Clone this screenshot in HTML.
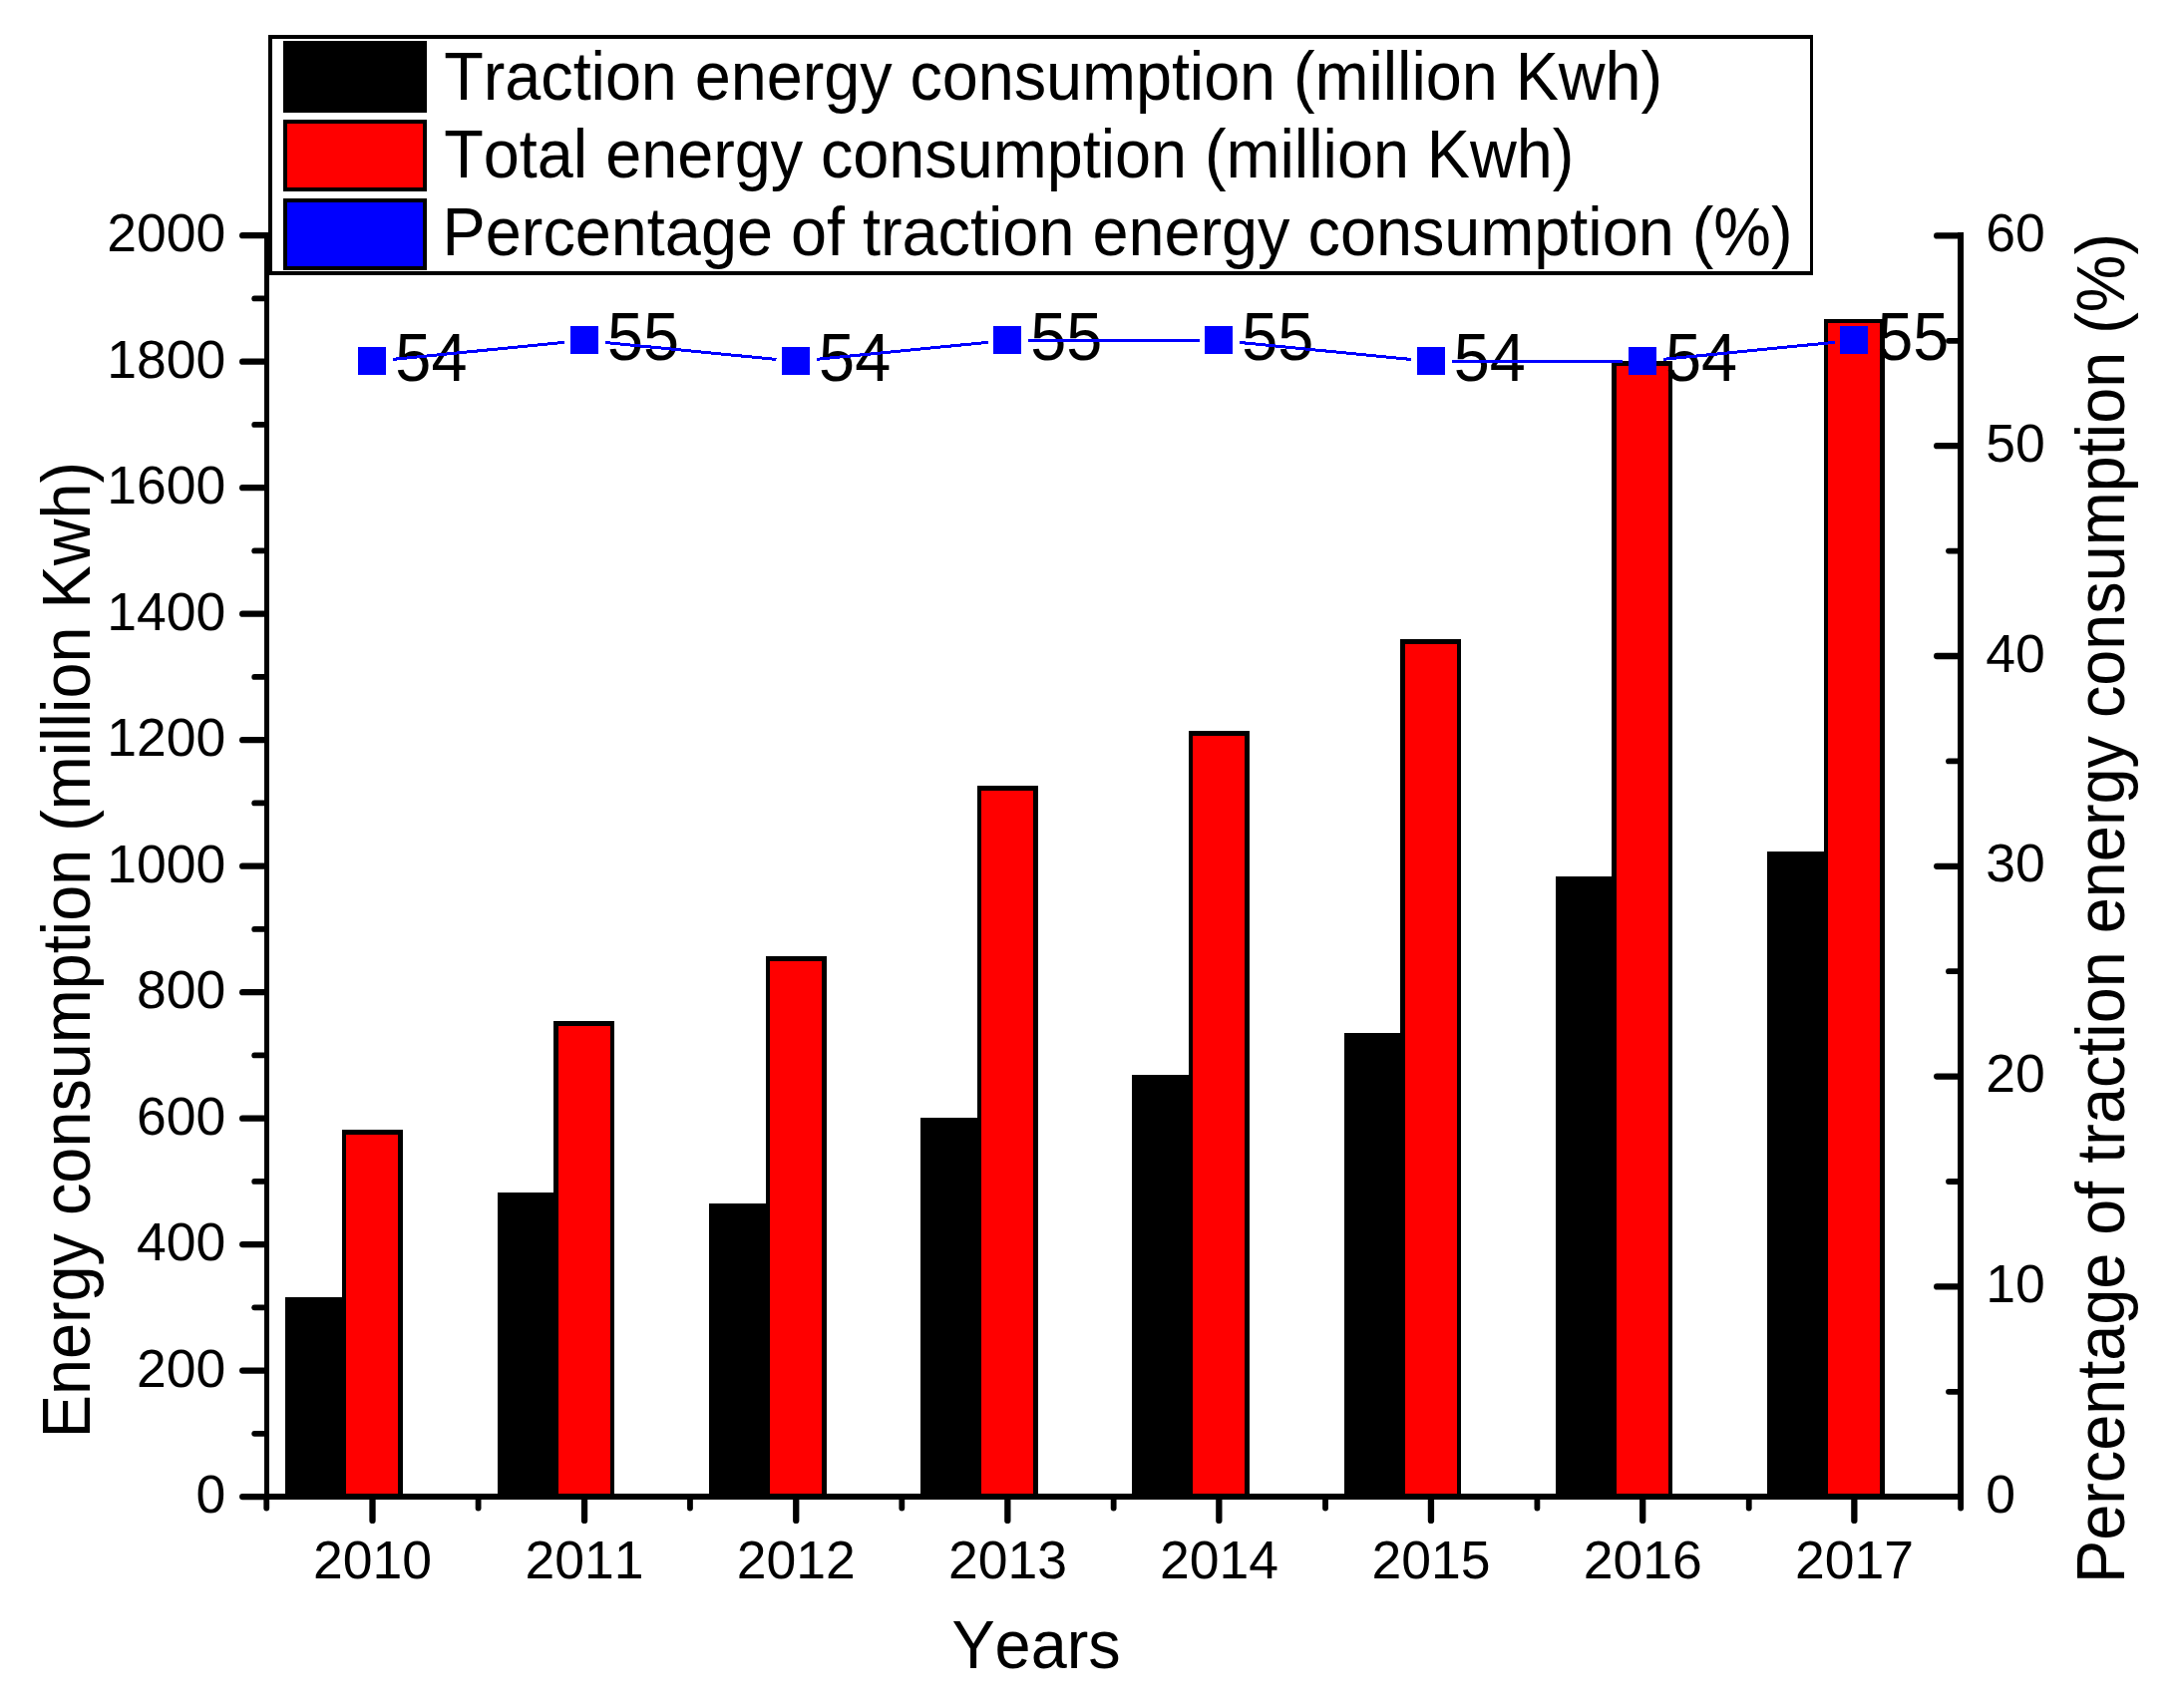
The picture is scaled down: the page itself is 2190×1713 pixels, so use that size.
<!DOCTYPE html>
<html lang="en"><head><meta charset="utf-8"><title>Energy consumption chart</title>
<style>html,body{margin:0;padding:0;background:#fff;}body{width:2190px;height:1713px;overflow:hidden;}svg{display:block;}text{font-family:"Liberation Sans",Arial,Helvetica,sans-serif;fill:#000;font-kerning:none;font-variant-ligatures:none;}</style>
</head><body>
<svg width="2190" height="1713" viewBox="0 0 2190 1713">
<rect x="0" y="0" width="2190" height="1713" fill="#fff"/>
<g shape-rendering="crispEdges">
<rect x="286.25" y="1300.75" width="61" height="200.35" fill="#000"/>
<rect x="345.00" y="1135.25" width="56.5" height="365.85" fill="#f00" stroke="#000" stroke-width="4.5"/>
<rect x="498.80" y="1195.75" width="61" height="305.35" fill="#000"/>
<rect x="557.55" y="1026.50" width="56.5" height="474.60" fill="#f00" stroke="#000" stroke-width="4.5"/>
<rect x="711.00" y="1207.00" width="61" height="294.10" fill="#000"/>
<rect x="769.75" y="961.50" width="56.5" height="539.60" fill="#f00" stroke="#000" stroke-width="4.5"/>
<rect x="923.10" y="1120.75" width="61" height="380.35" fill="#000"/>
<rect x="981.85" y="790.25" width="56.5" height="710.85" fill="#f00" stroke="#000" stroke-width="4.5"/>
<rect x="1135.10" y="1077.75" width="61" height="423.35" fill="#000"/>
<rect x="1193.85" y="735.25" width="56.5" height="765.85" fill="#f00" stroke="#000" stroke-width="4.5"/>
<rect x="1347.70" y="1035.75" width="61" height="465.35" fill="#000"/>
<rect x="1406.45" y="643.25" width="56.5" height="857.85" fill="#f00" stroke="#000" stroke-width="4.5"/>
<rect x="1559.95" y="878.75" width="61" height="622.35" fill="#000"/>
<rect x="1618.70" y="364.25" width="56.5" height="1136.85" fill="#f00" stroke="#000" stroke-width="4.5"/>
<rect x="1772.10" y="853.75" width="61" height="647.35" fill="#000"/>
<rect x="1830.85" y="321.75" width="56.5" height="1179.35" fill="#f00" stroke="#000" stroke-width="4.5"/>
</g>
<g font-size="64.8">
<text transform="translate(396.35,381.80) scale(1,1.05)">54</text>
<text transform="translate(608.90,360.80) scale(1,1.05)">55</text>
<text transform="translate(821.10,381.80) scale(1,1.05)">54</text>
<text transform="translate(1033.20,360.80) scale(1,1.05)">55</text>
<text transform="translate(1245.20,360.80) scale(1,1.05)">55</text>
<text transform="translate(1457.80,381.80) scale(1,1.05)">54</text>
<text transform="translate(1670.05,381.80) scale(1,1.05)">54</text>
<text transform="translate(1882.20,360.80) scale(1,1.05)">55</text>
</g>
<g stroke="#00f" stroke-width="3" fill="none" shape-rendering="crispEdges">
<line x1="394.25" y1="360.33" x2="566.30" y2="343.33"/>
<line x1="606.80" y1="343.48" x2="778.50" y2="360.47"/>
<line x1="819.00" y1="360.32" x2="990.60" y2="343.33"/>
<line x1="1031.10" y1="341.40" x2="1202.60" y2="341.40"/>
<line x1="1243.10" y1="343.47" x2="1415.20" y2="360.47"/>
<line x1="1455.70" y1="362.40" x2="1627.45" y2="362.40"/>
<line x1="1667.95" y1="360.32" x2="1839.60" y2="343.33"/>
</g>
<g fill="#00f" shape-rendering="crispEdges">
<rect x="359.25" y="348.00" width="28" height="28"/>
<rect x="571.80" y="327.00" width="28" height="28"/>
<rect x="784.00" y="348.00" width="28" height="28"/>
<rect x="996.10" y="327.00" width="28" height="28"/>
<rect x="1208.10" y="327.00" width="28" height="28"/>
<rect x="1420.70" y="348.00" width="28" height="28"/>
<rect x="1632.95" y="348.00" width="28" height="28"/>
<rect x="1845.10" y="327.00" width="28" height="28"/>
</g>
<g stroke="#000" fill="none">
<line x1="267.25" y1="233.2" x2="267.25" y2="1504.2" stroke-width="5.5" shape-rendering="crispEdges"/>
<line x1="1966.1" y1="233.2" x2="1966.1" y2="1504.2" stroke-width="5.7" shape-rendering="crispEdges"/>
<line x1="264.5" y1="1501.1" x2="1969" y2="1501.1" stroke-width="6.2" shape-rendering="crispEdges"/>
<g stroke-linecap="round">
<line x1="243.2" y1="1501.10" x2="266" y2="1501.10" stroke-width="6.3"/>
<line x1="243.2" y1="1374.61" x2="266" y2="1374.61" stroke-width="6.3"/>
<line x1="243.2" y1="1248.12" x2="266" y2="1248.12" stroke-width="6.3"/>
<line x1="243.2" y1="1121.63" x2="266" y2="1121.63" stroke-width="6.3"/>
<line x1="243.2" y1="995.14" x2="266" y2="995.14" stroke-width="6.3"/>
<line x1="243.2" y1="868.65" x2="266" y2="868.65" stroke-width="6.3"/>
<line x1="243.2" y1="742.16" x2="266" y2="742.16" stroke-width="6.3"/>
<line x1="243.2" y1="615.67" x2="266" y2="615.67" stroke-width="6.3"/>
<line x1="243.2" y1="489.18" x2="266" y2="489.18" stroke-width="6.3"/>
<line x1="243.2" y1="362.69" x2="266" y2="362.69" stroke-width="6.3"/>
<line x1="243.2" y1="236.20" x2="266" y2="236.20" stroke-width="6.3"/>
<line x1="255.2" y1="1437.86" x2="266" y2="1437.86" stroke-width="5.8"/>
<line x1="255.2" y1="1311.37" x2="266" y2="1311.37" stroke-width="5.8"/>
<line x1="255.2" y1="1184.88" x2="266" y2="1184.88" stroke-width="5.8"/>
<line x1="255.2" y1="1058.38" x2="266" y2="1058.38" stroke-width="5.8"/>
<line x1="255.2" y1="931.89" x2="266" y2="931.89" stroke-width="5.8"/>
<line x1="255.2" y1="805.40" x2="266" y2="805.40" stroke-width="5.8"/>
<line x1="255.2" y1="678.91" x2="266" y2="678.91" stroke-width="5.8"/>
<line x1="255.2" y1="552.42" x2="266" y2="552.42" stroke-width="5.8"/>
<line x1="255.2" y1="425.93" x2="266" y2="425.93" stroke-width="5.8"/>
<line x1="255.2" y1="299.44" x2="266" y2="299.44" stroke-width="5.8"/>
<line x1="1942.2" y1="1290.40" x2="1964" y2="1290.40" stroke-width="6.3"/>
<line x1="1942.2" y1="1079.60" x2="1964" y2="1079.60" stroke-width="6.3"/>
<line x1="1942.2" y1="868.80" x2="1964" y2="868.80" stroke-width="6.3"/>
<line x1="1942.2" y1="658.00" x2="1964" y2="658.00" stroke-width="6.3"/>
<line x1="1942.2" y1="447.20" x2="1964" y2="447.20" stroke-width="6.3"/>
<line x1="1942.2" y1="236.40" x2="1964" y2="236.40" stroke-width="6.3"/>
<line x1="1954" y1="1395.80" x2="1964" y2="1395.80" stroke-width="5.8"/>
<line x1="1954" y1="1185.00" x2="1964" y2="1185.00" stroke-width="5.8"/>
<line x1="1954" y1="974.20" x2="1964" y2="974.20" stroke-width="5.8"/>
<line x1="1954" y1="763.40" x2="1964" y2="763.40" stroke-width="5.8"/>
<line x1="1954" y1="552.60" x2="1964" y2="552.60" stroke-width="5.8"/>
<line x1="1954" y1="341.80" x2="1964" y2="341.80" stroke-width="5.8"/>
<line x1="373.50" y1="1502" x2="373.50" y2="1524.9" stroke-width="6.3"/>
<line x1="586.05" y1="1502" x2="586.05" y2="1524.9" stroke-width="6.3"/>
<line x1="798.25" y1="1502" x2="798.25" y2="1524.9" stroke-width="6.3"/>
<line x1="1010.35" y1="1502" x2="1010.35" y2="1524.9" stroke-width="6.3"/>
<line x1="1222.35" y1="1502" x2="1222.35" y2="1524.9" stroke-width="6.3"/>
<line x1="1434.95" y1="1502" x2="1434.95" y2="1524.9" stroke-width="6.3"/>
<line x1="1647.20" y1="1502" x2="1647.20" y2="1524.9" stroke-width="6.3"/>
<line x1="1859.35" y1="1502" x2="1859.35" y2="1524.9" stroke-width="6.3"/>
<line x1="267.25" y1="1502" x2="267.25" y2="1512.6" stroke-width="5.8"/>
<line x1="479.61" y1="1502" x2="479.61" y2="1512.6" stroke-width="5.8"/>
<line x1="691.96" y1="1502" x2="691.96" y2="1512.6" stroke-width="5.8"/>
<line x1="904.32" y1="1502" x2="904.32" y2="1512.6" stroke-width="5.8"/>
<line x1="1116.67" y1="1502" x2="1116.67" y2="1512.6" stroke-width="5.8"/>
<line x1="1329.03" y1="1502" x2="1329.03" y2="1512.6" stroke-width="5.8"/>
<line x1="1541.39" y1="1502" x2="1541.39" y2="1512.6" stroke-width="5.8"/>
<line x1="1753.74" y1="1502" x2="1753.74" y2="1512.6" stroke-width="5.8"/>
<line x1="1966.10" y1="1502" x2="1966.10" y2="1512.6" stroke-width="5.8"/>
</g>
</g>
<g font-size="53.5">
<g text-anchor="end">
<text x="226.3" y="1517.10">0</text>
<text x="226.3" y="1390.61">200</text>
<text x="226.3" y="1264.12">400</text>
<text x="226.3" y="1137.63">600</text>
<text x="226.3" y="1011.14">800</text>
<text x="226.3" y="884.65">1000</text>
<text x="226.3" y="758.16">1200</text>
<text x="226.3" y="631.67">1400</text>
<text x="226.3" y="505.18">1600</text>
<text x="226.3" y="378.69">1800</text>
<text x="226.3" y="252.20">2000</text>
</g>
<text x="1991.2" y="1516.80">0</text>
<text x="1991.2" y="1306.00">10</text>
<text x="1991.2" y="1095.20">20</text>
<text x="1991.2" y="884.40">30</text>
<text x="1991.2" y="673.60">40</text>
<text x="1991.2" y="462.80">50</text>
<text x="1991.2" y="252.00">60</text>
<g text-anchor="middle">
<text x="373.55" y="1583">2010</text>
<text x="586.10" y="1583">2011</text>
<text x="798.30" y="1583">2012</text>
<text x="1010.40" y="1583">2013</text>
<text x="1222.40" y="1583">2014</text>
<text x="1435.00" y="1583">2015</text>
<text x="1647.25" y="1583">2016</text>
<text x="1859.40" y="1583">2017</text>
</g>
</g>
<g font-size="64.8">
<text transform="translate(1039,1673) scale(1,1.05)" text-anchor="middle">Years</text>
<text transform="translate(90,1442.3) rotate(-90) scale(1,1.05)">Energy consumption (million Kwh)</text>
<text transform="translate(2130.2,1588) rotate(-90) scale(1,1.05)">Percentage of traction energy consumption (%)</text>
</g>
<rect x="270.75" y="36.75" width="1545.75" height="237.25" fill="#fff" stroke="#000" stroke-width="3.5" shape-rendering="crispEdges"/>
<g stroke="#000" stroke-width="3.75" shape-rendering="crispEdges">
<rect x="286.125" y="43.125" width="140.000" height="67.500" fill="#000"/>
<rect x="286.125" y="121.875" width="140.000" height="68.250" fill="#f00"/>
<rect x="286.125" y="200.625" width="140.000" height="68.250" fill="#00f"/>
</g>
<g font-size="64.8">
<text transform="translate(445.3,99.5) scale(1,1.05)" letter-spacing="-0.06">Traction energy consumption (million Kwh)</text>
<text transform="translate(445.3,178) scale(1,1.05)" letter-spacing="-0.03">Total energy consumption (million Kwh)</text>
<text transform="translate(443.6,256.4) scale(1,1.05)">Percentage of traction energy consumption (%)</text>
</g>
</svg>
</body></html>
